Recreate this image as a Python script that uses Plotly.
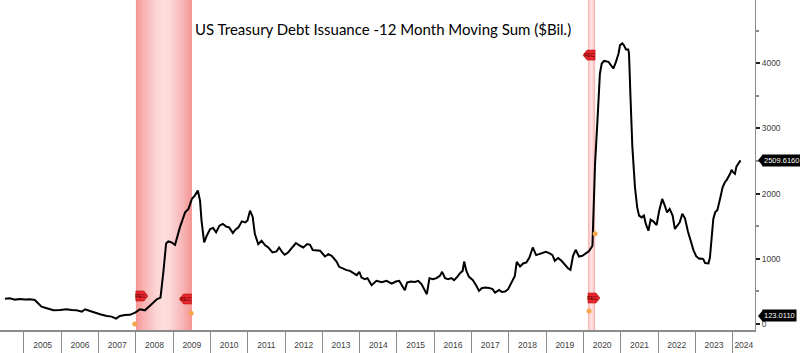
import plotly.graph_objects as go

# ---------------- data (decimal years, $bn) ----------------
t = [2004.49, 2004.62, 2004.76, 2004.89, 2005.03, 2005.16, 2005.29, 2005.38, 2005.47, 2005.61,
     2005.79, 2005.97, 2006.14, 2006.28, 2006.41, 2006.55, 2006.64, 2006.77, 2006.90, 2007.04,
     2007.22, 2007.35, 2007.47, 2007.57, 2007.71, 2007.84, 2007.98, 2008.11, 2008.24, 2008.33,
     2008.42, 2008.56, 2008.66, 2008.74, 2008.81, 2008.87, 2008.96, 2009.05, 2009.18, 2009.32,
     2009.41, 2009.50, 2009.58, 2009.66, 2009.72, 2009.76, 2009.83, 2009.90, 2009.99, 2010.07,
     2010.15, 2010.24, 2010.33, 2010.43, 2010.50, 2010.60, 2010.66, 2010.75, 2010.84, 2010.93,
     2010.99, 2011.06, 2011.13, 2011.19, 2011.28, 2011.37, 2011.46, 2011.55, 2011.66, 2011.77,
     2011.84, 2011.93, 2011.99, 2012.08, 2012.17, 2012.29, 2012.40, 2012.49, 2012.59, 2012.67,
     2012.74, 2012.85, 2012.94, 2013.07, 2013.16, 2013.25, 2013.38, 2013.45, 2013.56, 2013.65,
     2013.74, 2013.83, 2013.92, 2013.99, 2014.05, 2014.14, 2014.21, 2014.32, 2014.45, 2014.59,
     2014.72, 2014.86, 2014.97, 2015.06, 2015.15, 2015.21, 2015.27, 2015.37, 2015.48, 2015.57,
     2015.66, 2015.73, 2015.80, 2015.87, 2015.96, 2016.06, 2016.15, 2016.21, 2016.29, 2016.37,
     2016.46, 2016.53, 2016.60, 2016.69, 2016.76, 2016.80, 2016.86, 2016.93, 2017.03, 2017.12,
     2017.20, 2017.27, 2017.36, 2017.47, 2017.56, 2017.63, 2017.69, 2017.74, 2017.81, 2017.90,
     2017.98, 2018.07, 2018.16, 2018.21, 2018.30, 2018.38, 2018.47, 2018.55, 2018.64, 2018.73,
     2018.81, 2018.90, 2018.99, 2019.08, 2019.17, 2019.23, 2019.32, 2019.41, 2019.50, 2019.59,
     2019.65, 2019.72, 2019.79, 2019.88, 2019.97, 2020.06, 2020.15, 2020.24, 2020.26, 2020.31,
     2020.37, 2020.44, 2020.49, 2020.55, 2020.67, 2020.73, 2020.80, 2020.87, 2020.94, 2020.98,
     2021.04, 2021.08, 2021.14, 2021.20, 2021.22, 2021.26, 2021.31, 2021.38, 2021.44, 2021.49,
     2021.56, 2021.62, 2021.67, 2021.74, 2021.80, 2021.87, 2021.96, 2022.03, 2022.11, 2022.18,
     2022.24, 2022.31, 2022.39, 2022.45, 2022.51, 2022.58, 2022.65, 2022.72, 2022.80, 2022.88,
     2022.95, 2023.02, 2023.10, 2023.15, 2023.21, 2023.26, 2023.35, 2023.39, 2023.44, 2023.48,
     2023.53, 2023.59, 2023.66, 2023.73, 2023.79, 2023.84, 2023.93, 2023.97, 2024.01, 2024.06,
     2024.10, 2024.15, 2024.21]

debt = [389, 395, 374, 385, 374, 380, 369, 312, 266, 241,
        210, 215, 226, 215, 210, 190, 226, 200, 174, 149,
        123, 113, 82, 123, 138, 140, 174, 226, 210, 251,
        303, 380, 405, 815, 1235, 1266, 1251, 1215, 1482, 1712,
        1765, 1918, 1969, 2046, 1892, 1585, 1251, 1354, 1457, 1472,
        1405, 1508, 1534, 1492, 1482, 1395, 1442, 1482, 1574, 1558,
        1585, 1738, 1646, 1380, 1226, 1277, 1211, 1174, 1097, 1112,
        1174, 1097, 1062, 1097, 1165, 1242, 1200, 1174, 1226, 1215,
        1134, 1134, 1123, 1035, 1072, 1046, 958, 877, 842, 826,
        815, 780, 749, 800, 712, 688, 703, 595, 662, 641,
        662, 620, 651, 662, 585, 518, 635, 651, 646, 662,
        610, 543, 457, 703, 688, 703, 738, 800, 703, 688,
        703, 672, 712, 780, 815, 958, 815, 723, 677, 595,
        508, 549, 559, 554, 534, 482, 508, 523, 492, 497,
        534, 635, 738, 954, 882, 928, 943, 1020, 1174, 1057,
        1072, 1097, 1108, 1088, 1057, 969, 1011, 969, 908, 851,
        831, 1046, 1138, 1035, 1046, 1082, 1120, 1200, 1635, 2457,
        3072, 3842, 3995, 4035, 4020, 3969, 3918, 4020, 4149, 4277,
        4303, 4277, 4211, 4211, 4149, 3482, 2712, 2097, 1789, 1662,
        1635, 1662, 1534, 1431, 1600, 1574, 1518, 1738, 1918, 1815,
        1712, 1765, 1662, 1457, 1508, 1558, 1690, 1620, 1420, 1250,
        1130, 1040, 1000, 1005, 995, 934, 928, 1020, 1431, 1611,
        1712, 1749, 1918, 2097, 2174, 2211, 2303, 2365, 2328, 2303,
        2415, 2466, 2509.616]

# recession periods (decimal years)
rec_start = [2008.0, 2020.12]
rec_end = [2009.49, 2020.31]

# orange recession-indicator dots
dot_t = [2007.97, 2009.48, 2020.15, 2020.31]
dot_v = [0, 165, 200, 1385]

last_debt_value = 2509.616
last_debt_label = "2509.6160"
last_dot_value = 123.011
last_dot_label = "123.0110"

years = list(range(2005, 2025))
x_min, x_max = 2004.357, 2024.598
y_min, y_max = -92, 4969
title = "US Treasury Debt Issuance -12 Month Moving Sum ($Bil.)"

# ---------------- figure ----------------
fig = go.Figure()

shapes = []
# recession shading with a soft gradient (darker edges, lighter centre)
edge = (246, 150, 150)
centre = (253, 222, 222)
n = 30
for a, b in zip(rec_start, rec_end):
    w = (b - a) / n
    for i in range(n):
        u = (i + 0.5) / n
        f = abs(2 * u - 1) ** 1.4
        c = tuple(int(round(centre[k] + (edge[k] - centre[k]) * f)) for k in range(3))
        shapes.append(dict(type="rect", xref="x", yref="paper", x0=a + i * w, x1=a + (i + 1) * w + w * 0.3,
                           y0=0, y1=1, fillcolor="rgb(%d,%d,%d)" % c, line=dict(width=0), layer="below"))

fig.add_trace(go.Scatter(x=t, y=debt, mode="lines", line=dict(color="black", width=2),
                         hoverinfo="x+y", showlegend=False))
fig.add_trace(go.Scatter(x=dot_t, y=dot_v, mode="markers", marker=dict(color="#f5a54a", size=5),
                         showlegend=False, hoverinfo="skip"))

# REC flags (pixel-sized shapes anchored at recession boundaries)
flag_red = "#e8262b"
right_flag = "M0,-5 L8,-5 L12,0 L8,5 L0,5 Z"
left_flag = "M0,-5 L-8,-5 L-12,0 L-8,5 L0,5 Z"
flags = [  # (x anchor, paper y, path, text offset)
    (rec_start[0], 0.103, right_flag, 5),
    (rec_end[0], 0.094, left_flag, -6),
    (rec_end[1], 0.833, left_flag, -6),
    (rec_start[1], 0.097, right_flag, 5),
]
annotations = []
for xa, ya, p, off in flags:
    shapes.append(dict(type="path", xref="x", yref="paper", xsizemode="pixel", ysizemode="pixel",
                       xanchor=xa, yanchor=ya, path=p, fillcolor=flag_red,
                       line=dict(color="#b01010", width=0.6), layer="above"))
    annotations.append(dict(x=xa, y=ya, xref="x", yref="paper", text="REC", showarrow=False,
                            xanchor="center", yanchor="middle",
                            xshift=off, font=dict(size=5, color="#5a0000", family="Liberation Sans")))

# last value labels on the right axis
for val, txt in [(last_debt_value, last_debt_label), (last_dot_value, last_dot_label)]:
    shapes.append(dict(type="path", xref="paper", yref="y", xsizemode="pixel", ysizemode="pixel",
                       xanchor=1, yanchor=val, path="M3,0 L8,6 L8,-6 Z", fillcolor="black",
                       line=dict(width=0), layer="above"))
    annotations.append(dict(x=1, y=val, xref="paper", yref="y", xanchor="left", yanchor="middle",
                            text=txt, showarrow=False, xshift=7, bgcolor="black", borderpad=1,
                            font=dict(size=7.5, color="white", family="Liberation Sans")))

annotations.append(dict(x=0.507, y=0.945, xref="paper", yref="paper", text=title, showarrow=False,
                        font=dict(size=15, color="black", family="Lato")))

tickvals = [min(y + 0.5, (y + x_max) / 2) for y in years]

fig.update_layout(
    width=800, height=353,
    margin=dict(l=0, r=45, t=0, b=23),
    paper_bgcolor="white", plot_bgcolor="white",
    shapes=shapes, annotations=annotations,
    showlegend=False,
    xaxis=dict(range=[x_min, x_max], showgrid=False, zeroline=False,
               showline=True, linecolor="#8c8c8c", linewidth=2,
               tickmode="array", tickvals=tickvals, ticktext=[str(y) for y in years],
               ticks="", ticklabelstandoff=6,
               tickfont=dict(size=8.5, color="#404040", family="Liberation Sans"),
               minor=dict(tickmode="linear", tick0=2004, dtick=1, ticks="outside", ticklen=23,
                          tickcolor="#8c8c8c", tickwidth=1, showgrid=False)),
    yaxis=dict(range=[y_min, y_max], side="right", showgrid=False, zeroline=False,
               showline=True, linecolor="#8c8c8c", linewidth=1,
               tickmode="array", tickvals=[0, 1000, 2000, 3000, 4000],
               ticks="outside", ticklen=4, tickcolor="#222", tickwidth=1.5,
               tickfont=dict(size=8.5, color="#404040", family="Liberation Sans"),
               minor=dict(tickmode="array", tickvals=[500, 1500, 2500, 3500, 4500], ticks="outside",
                          ticklen=3, tickcolor="#8c8c8c", showgrid=False)),
)

fig.write_html("out.html")
